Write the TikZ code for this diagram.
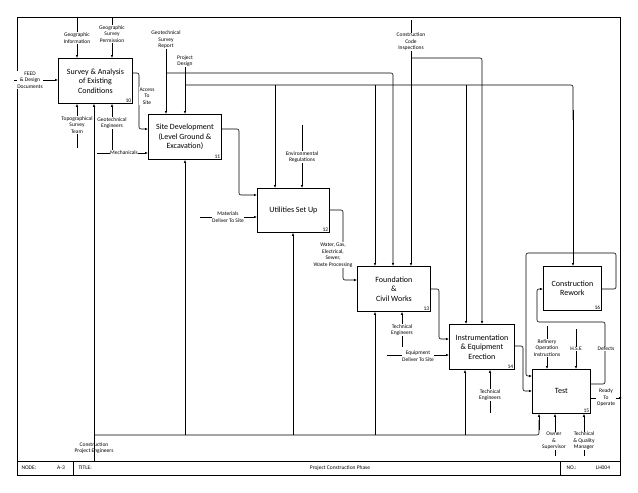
\documentclass[tikz,border=0pt]{standalone}
\usepackage{fontspec}
\setmainfont{Carlito}
\usetikzlibrary{arrows.meta}
\begin{document}
\begin{tikzpicture}[x=1pt,y=-1pt,
  box/.style={draw,line width=0.8pt,anchor=north west,align=center,inner sep=0pt,font=\fontsize{8}{9.5}\selectfont},
  lbl/.style={align=center,font=\fontsize{5.5}{6.5}\selectfont,inner sep=0.5pt,fill=white},
  num/.style={anchor=south east,font=\fontsize{5.5}{6}\selectfont,inner sep=1.5pt},
  ar/.style={-{Latex[length=3pt,width=2.5pt]},line width=0.6pt,rounded corners=2pt},
  ln/.style={line width=0.6pt,rounded corners=2pt}]
\useasboundingbox (0,0) rectangle (638,493);
\draw[line width=0.8pt] (17,17) rectangle (620,475);
\draw[line width=0.6pt] (17,461) -- (620,461) (73,461) -- (73,475) (560,461) -- (560,475);
\node[anchor=west,font=\fontsize{5.5}{6}\selectfont] (nd) at (18,468) {NODE:};
\node[font=\fontsize{5.5}{6}\selectfont] (a3) at (61,468) {A-3};
\node[anchor=west,font=\fontsize{5.5}{6}\selectfont] (tt) at (75,468) {TITLE:};
\node[font=\fontsize{5.5}{6}\selectfont] (pc) at (340,468) {Project Construction Phase};
\node[anchor=west,font=\fontsize{5.5}{6}\selectfont] (no) at (563,468) {NO.:};
\node[font=\fontsize{5.5}{6}\selectfont] (lh) at (603,468) {LH004};
% boxes
\node[box,minimum width=74pt,minimum height=45pt] (b10) at (58,58) {Survey \& Analysis\\of Existing\\Conditions};
\node[num] at (b10.south east) {10};
\node[box,minimum width=73pt,minimum height=45pt] (b11) at (148,114) {Site Development\\(Level Ground \&\\Excavation)};
\node[num] at (b11.south east) {11};
\node[box,minimum width=72pt,minimum height=44pt] (b12) at (257,188) {Utilities Set Up};
\node[num] at (b12.south east) {12};
\node[box,minimum width=73pt,minimum height=45pt] (b13) at (357,266) {Foundation\\\&\\Civil Works};
\node[num] at (b13.south east) {13};
\node[box,minimum width=65pt,minimum height=45pt] (b14) at (449,324) {Instrumentation\\\& Equipment\\Erection};
\node[num] at (b14.south east) {14};
\node[box,minimum width=58pt,minimum height=44pt] (b15) at (532,369) {Test};
\node[num] at (b15.south east) {15};
\node[box,minimum width=58pt,minimum height=44pt] (b16) at (543,266) {Construction\\Rework};
\node[num] at (b16.south east) {16};
% box10 inputs
\coordinate (gi) at (77,17); \coordinate (gs) at (112,17);
\draw[ar] (gi) -- (77,0 |- b10.north);
\draw[ar] (gs) -- (112,0 |- b10.north);
\node[lbl] at (77,38) {Geographic\\Information};
\node[lbl] at (112,34) {Geographic\\Survey\\Permission};
\coordinate (fd) at (14,80);
\draw[ar] (fd) -- (b10.west |- 0,80);
\node[lbl] at (30,80) {FEED\\\& Design\\Documents};
\coordinate (tp) at (77,148); \coordinate (ge) at (112,150);
\draw[ar] (tp) -- (77,0 |- b10.south);
\node[lbl] at (77,125) {Topographical\\Survey\\Team};
\draw[ar] (ge) -- (112,0 |- b10.south);
\node[lbl] at (112,123) {Geotechnical\\Engineers};
\coordinate (mc) at (97,153);
\draw[ar] (mc) -- (b11.west |- 0,153);
\node[lbl] at (124,153) {Mechanicals};
% 10 -> 11
\draw[ar] (b10.east |- 0,73) -- (139,73) -- (139,129) -- (b11.west |- 0,129);
\node[lbl] at (147,96) {Access\\To\\Site};
% geotech report
\coordinate (gr) at (166,48);
\draw[ar] (gr) -- (166,0 |- b11.north);
\draw[ar] (166,73) -- (393,73) -- (393,0 |- b13.north);
\node[lbl] at (166,40) {Geotechnical\\Survey\\Report};
% project design
\coordinate (pd) at (185,66);
\draw[ar] (pd) -- (185,0 |- b11.north);
\node[lbl] at (185,61) {Project\\Design};
\draw[ln] (185,85) -- (573,85) -- (573,120);
\draw[ar] (573,110) -- (573,0 |- b16.north);
\draw[ar] (275,85) -- (275,0 |- b12.north);
\draw[ar] (375,85) -- (375,0 |- b13.north);
\draw[ar] (466,85) -- (466,0 |- b14.north);
% code inspections
\coordinate (ci) at (411,20);
\draw[ar] (ci) -- (411,0 |- b13.north);
\draw[ar] (411,58) -- (482,58) -- (482,0 |- b14.north);
\node[lbl] at (411,42) {Construction\\Code\\Inspections};
% env reg
\coordinate (er) at (302,125);
\draw[ar] (er) -- (302,0 |- b12.north);
\node[lbl] at (302,157) {Environmental\\Regulations};
% 11 -> 12
\draw[ar] (b11.east |- 0,129) -- (239,129) -- (239,195) -- (b12.west |- 0,195);
\coordinate (md) at (200,217);
\draw[ar] (md) -- (b12.west |- 0,217);
\node[lbl] at (228,217) {Materials\\Deliver To Site};
% 12 -> 13
\draw[ar] (b12.east |- 0,210) -- (343,210) -- (343,280) -- (b13.west |- 0,280);
\node[lbl] at (333,255) {Water, Gas,\\Electrical,\\Sewer,\\Waste Processing};
% 13 -> 14
\draw[ar] (b13.east |- 0,289) -- (439,289) -- (439,339) -- (b14.west |- 0,339);
\coordinate (te13) at (402,347);
\draw[ar] (te13) -- (402,0 |- b13.south);
\node[lbl] at (402,330) {Technical\\Engineers};
\coordinate (ed) at (387,355);
\draw[ar] (ed) -- (b14.west |- 0,355);
\node[lbl] at (418,356) {Equipment\\Deliver To Site};
% 14 -> 15
\draw[ar] (b14.east |- 0,346) -- (523,346) -- (523,391) -- (b15.west |- 0,391);
\coordinate (te14) at (490,413);
\draw[ar] (te14) -- (490,0 |- b14.south);
\node[lbl] at (490,395) {Technical\\Engineers};
% 15 -> 16 defects
\draw[ar] (b15.east |- 0,384) -- (605,384) -- (605,322) -- (537,322) -- (537,289) -- (b16.west |- 0,289);
\node[lbl] at (606,349) {Defects};
% 16 -> 15
\draw[ar] (b16.east |- 0,289) -- (616,289) -- (616,253) -- (526,253) -- (526,376) -- (b15.west |- 0,376);
% ready
\coordinate (ro) at (622,398);
\draw[ar] (b15.east |- 0,398) -- (ro);
\node[lbl] at (606,398) {Ready\\To\\Operate};
\coordinate (ri) at (547,326); \coordinate (hs) at (576,329);
\draw[ar] (ri) -- (547,0 |- b15.north);
\node[lbl] at (547,348) {Refinery\\Operation\\Instructions};
\draw[ar] (hs) -- (576,0 |- b15.north);
\node[lbl] at (576,349) {H.S.E};
\coordinate (ow) at (555,456); \coordinate (tq) at (584,456);
\draw[ar] (ow) -- (555,0 |- b15.south);
\node[lbl] at (554,441) {Owner\\\&\\Supervisor};
\draw[ar] (tq) -- (584,0 |- b15.south);
\node[lbl] at (584,441) {Technical\\\& Quality\\Manager};
% construction project engineers
\coordinate (cp) at (94,461);
\draw[ar] (cp) -- (94,0 |- b10.south);
\draw[ln] (94,435) -- (539,435) -- (539,420);
\draw[ar] (539,430) -- (539,0 |- b15.south);
\draw[ar] (185,435) -- (185,0 |- b11.south);
\draw[ar] (293,435) -- (293,0 |- b12.south);
\draw[ar] (375,435) -- (375,0 |- b13.south);
\draw[ar] (465,435) -- (465,0 |- b14.south);
\node[lbl,fill=none] at (94,448) {Construction\\Project Engineers};
\end{tikzpicture}
\end{document}
